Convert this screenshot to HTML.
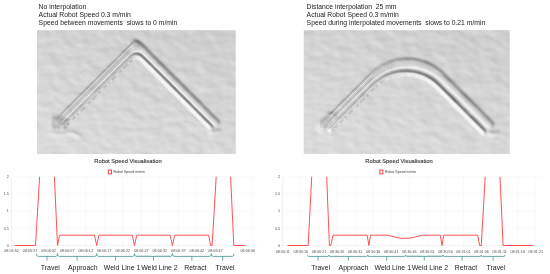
<!DOCTYPE html>
<html lang="en">
<head>
<meta charset="utf-8">
<title>Robot Speed Visualisation</title>
<style>
html,body{margin:0;padding:0;background:#fff;}
body{width:550px;height:274px;overflow:hidden;}
svg{display:block;font-family:"Liberation Sans", Arial, Helvetica, sans-serif;}
</style>
</head>
<body>
<svg width="550" height="274" viewBox="0 0 550 274">
<rect width="550" height="274" fill="#fff"/>
<defs>
<filter id="relief1" x="0" y="0" width="100%" height="100%" color-interpolation-filters="sRGB">
<feGaussianBlur in="SourceAlpha" stdDeviation="1" result="h"/>
<feTurbulence type="fractalNoise" baseFrequency="0.07 0.1" numOctaves="2" seed="7" result="n"/>
<feComposite in="h" in2="n" operator="arithmetic" k2="1" k3="0.065" result="hn"/>
<feDiffuseLighting in="hn" surfaceScale="6.5" diffuseConstant="1" lighting-color="#f5f5f5">
<feDistantLight azimuth="132" elevation="60"/>
</feDiffuseLighting>
</filter>
<filter id="relief2" x="0" y="0" width="100%" height="100%" color-interpolation-filters="sRGB">
<feGaussianBlur in="SourceAlpha" stdDeviation="1" result="h"/>
<feTurbulence type="fractalNoise" baseFrequency="0.07 0.1" numOctaves="2" seed="23" result="n"/>
<feComposite in="h" in2="n" operator="arithmetic" k2="1" k3="0.065" result="hn"/>
<feDiffuseLighting in="hn" surfaceScale="6.5" diffuseConstant="1" lighting-color="#f5f5f5">
<feDistantLight azimuth="132" elevation="60"/>
</feDiffuseLighting>
</filter>
<filter id="bl00" x="-10%" y="-10%" width="120%" height="120%"><feGaussianBlur stdDeviation="0.45"/></filter>
<filter id="bl05" x="-10%" y="-10%" width="120%" height="120%"><feGaussianBlur stdDeviation="0.6"/></filter>
<filter id="bl0" x="-20%" y="-20%" width="140%" height="140%"><feGaussianBlur stdDeviation="1.1"/></filter>
<filter id="bl1" x="-10%" y="-10%" width="120%" height="120%"><feGaussianBlur stdDeviation="1"/></filter>
<filter id="bl2" x="-10%" y="-10%" width="120%" height="120%"><feGaussianBlur stdDeviation="1.8"/></filter>
<linearGradient id="lg" x1="0.72" y1="0" x2="0.28" y2="1">
<stop offset="0" stop-color="#000" stop-opacity="0.025"/>
<stop offset="0.42" stop-color="#000" stop-opacity="0"/>
<stop offset="0.42" stop-color="#fff" stop-opacity="0"/>
<stop offset="1" stop-color="#fff" stop-opacity="0.14"/>
</linearGradient>
<clipPath id="gc1"><rect x="37" y="30.3" width="198.6" height="123.7"/></clipPath>
<clipPath id="gc2"><rect x="303.8" y="30.3" width="205.8" height="123.7"/></clipPath>
</defs>
<text x="38.6" y="8.85" font-size="6.8" fill="#1c1c1c" xml:space="preserve" style="white-space:pre">No interpolation</text>
<text x="38.6" y="16.8" font-size="6.8" fill="#1c1c1c" xml:space="preserve" style="white-space:pre">Actual Robot Speed 0.3 m/min</text>
<text x="38.6" y="24.85" font-size="6.8" fill="#1c1c1c" xml:space="preserve" style="white-space:pre">Speed between movements  slows to 0 m/min</text>
<text x="306.6" y="8.85" font-size="6.8" fill="#1c1c1c" xml:space="preserve" style="white-space:pre">Distance interpolation  25 mm</text>
<text x="306.6" y="16.8" font-size="6.8" fill="#1c1c1c" xml:space="preserve" style="white-space:pre">Actual Robot Speed 0.3 m/min</text>
<text x="306.6" y="24.85" font-size="6.8" fill="#1c1c1c" xml:space="preserve" style="white-space:pre">Speed during interpolated movements  slows to 0.21 m/min</text>
<g clip-path="url(#gc1)">
<rect x="37" y="30.3" width="198.6" height="123.7" fill="#d1d1d1"/>
<g filter="url(#relief1)">
<rect x="30" y="23.3" width="212.6" height="137.7" fill="#000" fill-opacity="0.3"/>
<path d="M56 119.3L132.86 42.44A5 5 0 0 1 139.94 42.44L218.5 121A2.65 2.65 0 0 1 214.75 124.75L142.06 52.06A8 8 0 0 0 130.74 52.06L59.75 123.05A2.65 2.65 0 0 1 56 119.3Z" fill="#000" fill-opacity="0.15"/>
<path d="M63 126L131.55 57.45A7 7 0 0 1 141.45 57.45L211 127" fill="none" stroke="#000" stroke-opacity="0.15" stroke-width="3.4" stroke-linejoin="round" stroke-linecap="round" stroke-dasharray="4.5 1.2 2.5 1.6 6 1.3 3.2 1.8"/>
<path d="M63 126L131.55 57.45A7 7 0 0 1 141.45 57.45L211 127" fill="none" stroke="#000" stroke-opacity="0.09" stroke-width="3.4" stroke-linejoin="round" stroke-linecap="round"/>
<g filter="url(#bl0)"><path d="M52 117.5L51.5 128.5L65 129.5L68 120Z" fill="#000" fill-opacity="0.06" stroke="#000" stroke-opacity="0.06" stroke-width="2" stroke-linejoin="round"/><ellipse cx="134.2" cy="44.6" rx="4.6" ry="4.8" fill="#000" fill-opacity="0.12"/><path d="M210 131.5Q216 133 220 131" fill="none" stroke="#000" stroke-opacity="0.14" stroke-width="2.4" stroke-linecap="round"/><path d="M50 132.5Q58 135 66 133.5T80 136.5" fill="none" stroke="#000" stroke-opacity="0.1" stroke-width="2.6" stroke-linecap="round"/></g>
</g>
<path d="M56 119.3L132.86 42.44A5 5 0 0 1 139.94 42.44L218.5 121A2.65 2.65 0 0 1 214.75 124.75L142.06 52.06A8 8 0 0 0 130.74 52.06L59.75 123.05A2.65 2.65 0 0 1 56 119.3Z" fill="#000" fill-opacity="0.035" stroke="#000" stroke-opacity="0.03" stroke-width="5" filter="url(#bl1)"/>
<path d="M61 114.3L132.86 42.44" fill="none" stroke="#000" stroke-opacity="0.26" stroke-width="0.8" stroke-linecap="round" filter="url(#bl00)"/>
<path d="M63 116.5L131.5 48M67 121L131 57" fill="none" stroke="#000" stroke-opacity="0.15" stroke-width="0.8" stroke-linecap="round" filter="url(#bl00)"/>
<path d="M63 114.4L132.5 44.9" fill="none" stroke="#fff" stroke-opacity="0.5" stroke-width="0.8" stroke-linecap="round" filter="url(#bl00)"/>
<path d="M62 121.8L130.32 53.48A8.6 8.6 0 0 1 142.48 53.48L214 125" fill="none" stroke="#fff" stroke-opacity="0.7" stroke-width="1" stroke-linecap="round" filter="url(#bl00)"/>
<path d="M51.5 116.5L51.5 129L66 130L69 119Z" fill="#000" fill-opacity="0.15" filter="url(#bl1)"/>
<path d="M66 126L131.55 60.45A7 7 0 0 1 141.45 60.45L209 128" fill="none" stroke="#fff" stroke-opacity="0.5" stroke-width="1.7" stroke-linecap="round" stroke-dasharray="0.8 4.6 2.6 6.1 0.5 3.9 1.4 7.4 3.1 5.2 0.4 8.3" filter="url(#bl05)"/>
<rect x="37" y="30.3" width="198.6" height="123.7" fill="url(#lg)"/>
</g>
<g clip-path="url(#gc2)">
<rect x="303.8" y="30.3" width="205.8" height="123.7" fill="#d1d1d1"/>
<g filter="url(#relief2)">
<rect x="296.8" y="23.3" width="219.8" height="137.7" fill="#000" fill-opacity="0.3"/>
<path d="M321 123L370.3 73.7A51.91 51.91 0 0 1 443.7 73.7L492.5 122.5A3.01 3.01 0 0 1 488.25 126.75L442.68 81.18A50.82 50.82 0 0 0 370.82 81.18L325 127A2.83 2.83 0 0 1 321 123Z" fill="#000" fill-opacity="0.15"/>
<path d="M330.5 129.5L374.25 85.75A44.9 44.9 0 0 1 437.75 85.75L484.5 132.5" fill="none" stroke="#000" stroke-opacity="0.15" stroke-width="3.4" stroke-linejoin="round" stroke-linecap="round" stroke-dasharray="4.5 1.2 2.5 1.6 6 1.3 3.2 1.8"/>
<path d="M330.5 129.5L374.25 85.75A44.9 44.9 0 0 1 437.75 85.75L484.5 132.5" fill="none" stroke="#000" stroke-opacity="0.09" stroke-width="3.4" stroke-linejoin="round" stroke-linecap="round"/>
<g filter="url(#bl0)"><path d="M321.5 126.5L331 117" fill="none" stroke="#000" stroke-opacity="0.1" stroke-width="10" stroke-linecap="round"/><path d="M489 133.5Q494 135 498 133" fill="none" stroke="#000" stroke-opacity="0.14" stroke-width="2.4" stroke-linecap="round"/></g>
</g>
<path d="M321 123L370.3 73.7A51.91 51.91 0 0 1 443.7 73.7L492.5 122.5A3.01 3.01 0 0 1 488.25 126.75L442.68 81.18A50.82 50.82 0 0 0 370.82 81.18L325 127A2.83 2.83 0 0 1 321 123Z" fill="#000" fill-opacity="0.035" stroke="#000" stroke-opacity="0.03" stroke-width="5" filter="url(#bl1)"/>
<path d="M329 115L370.3 73.7" fill="none" stroke="#000" stroke-opacity="0.26" stroke-width="0.8" stroke-linecap="round" filter="url(#bl00)"/>
<path d="M331 119L371 79M335 121.7L372 84.7" fill="none" stroke="#000" stroke-opacity="0.15" stroke-width="0.8" stroke-linecap="round" filter="url(#bl00)"/>
<path d="M330 116.6L371 75.6" fill="none" stroke="#fff" stroke-opacity="0.5" stroke-width="0.8" stroke-linecap="round" filter="url(#bl00)"/>
<path d="M328 124.5L371.33 81.67A50.09 50.09 0 0 1 442.17 81.67L487 126.5" fill="none" stroke="#fff" stroke-opacity="0.7" stroke-width="1" stroke-linecap="round" filter="url(#bl00)"/>
<path d="M321.5 126.5L331 117" fill="none" stroke="#000" stroke-opacity="0.08" stroke-width="10" stroke-linecap="round" filter="url(#bl1)"/>
<path d="M334 129L375.61 87.39A42.97 42.97 0 0 1 436.39 87.39L482 133" fill="none" stroke="#fff" stroke-opacity="0.5" stroke-width="1.7" stroke-linecap="round" stroke-dasharray="0.8 4.6 2.6 6.1 0.5 3.9 1.4 7.4 3.1 5.2 0.4 8.3" filter="url(#bl05)"/>
<rect x="303.8" y="30.3" width="205.8" height="123.7" fill="url(#lg)"/>
</g>
<path d="M11.6 176.8V248.1M30.13 176.8V248.1M48.66 176.8V248.1M67.19 176.8V248.1M85.72 176.8V248.1M104.25 176.8V248.1M122.78 176.8V248.1M141.31 176.8V248.1M159.84 176.8V248.1M178.37 176.8V248.1M196.9 176.8V248.1M215.43 176.8V248.1M233.96 176.8V248.1M252.49 176.8V248.1M9.2 228.32H255M9.2 211.15H255M9.2 193.98H255M9.2 176.8H255" stroke="#000" stroke-opacity="0.06" stroke-width="0.45" fill="none"/>
<path d="M11.6 176.8V248.1M9.2 245.5H255" stroke="#000" stroke-opacity="0.11" stroke-width="0.45" fill="none"/>
<text x="8.9" y="246.75" font-size="3.7" fill="#505050" text-anchor="end">0</text>
<text x="8.9" y="229.57" font-size="3.7" fill="#505050" text-anchor="end">0.5</text>
<text x="8.9" y="212.4" font-size="3.7" fill="#505050" text-anchor="end">1</text>
<text x="8.9" y="195.23" font-size="3.7" fill="#505050" text-anchor="end">1.5</text>
<text x="8.9" y="178.05" font-size="3.7" fill="#505050" text-anchor="end">2</text>
<text x="11.6" y="252.3" font-size="3.75" fill="#505050" text-anchor="middle">08:05:52</text>
<text x="30.13" y="252.3" font-size="3.75" fill="#505050" text-anchor="middle">08:05:57</text>
<text x="48.66" y="252.3" font-size="3.75" fill="#505050" text-anchor="middle">08:06:02</text>
<text x="67.19" y="252.3" font-size="3.75" fill="#505050" text-anchor="middle">08:06:07</text>
<text x="85.72" y="252.3" font-size="3.75" fill="#505050" text-anchor="middle">08:06:12</text>
<text x="104.25" y="252.3" font-size="3.75" fill="#505050" text-anchor="middle">08:06:17</text>
<text x="122.78" y="252.3" font-size="3.75" fill="#505050" text-anchor="middle">08:06:22</text>
<text x="141.31" y="252.3" font-size="3.75" fill="#505050" text-anchor="middle">08:06:27</text>
<text x="159.84" y="252.3" font-size="3.75" fill="#505050" text-anchor="middle">08:06:32</text>
<text x="178.37" y="252.3" font-size="3.75" fill="#505050" text-anchor="middle">08:06:37</text>
<text x="196.9" y="252.3" font-size="3.75" fill="#505050" text-anchor="middle">08:06:42</text>
<text x="215.43" y="252.3" font-size="3.75" fill="#505050" text-anchor="middle">08:06:47</text>
<text x="247.8" y="252.3" font-size="3.75" fill="#505050" text-anchor="middle">08:06:56</text>
<text x="128" y="163.1" font-size="5.75" fill="#383838" stroke="#383838" stroke-width="0.12" text-anchor="middle">Robot Speed Visualisation</text>
<rect x="108.4" y="170.1" width="3.1" height="3.7" fill="#fff" stroke="#ff4040" stroke-width="1"/>
<text x="113.5" y="173.1" font-size="3.55" fill="#444">Robot Speed m/min</text>
<clipPath id="c1"><rect x="11.6" y="176.8" width="243.4" height="69.7"/></clipPath>
<path d="M14.6 245.5L35.5 245.5L40.83 156.19L53.47 156.19L57.5 245.5L59.6 235.19L94.5 235.19L96.7 245.5L98.9 235.19L132.3 235.19L134.5 245.5L136.7 235.19L170.2 235.19L172.4 245.5L174.6 235.19L208.6 235.19L210.6 245.5L212.1 245.5L217.43 156.19L229.64 156.19L233.8 245.5L245.2 245.5" clip-path="url(#c1)" stroke="#ff4d4d" stroke-width="0.97" fill="none" stroke-linejoin="round"/>
<path d="M36.4 253.6Q36.4 256.4 38.2 256.4H55.7Q57.5 256.4 57.5 253.6M46.95 256.4V260.6M57.5 253.6Q57.5 256.4 59.3 256.4H94.9Q96.7 256.4 96.7 253.6M77.1 256.4V260.6M96.7 253.6Q96.7 256.4 98.5 256.4H132.7Q134.5 256.4 134.5 253.6M115.6 256.4V260.6M134.5 253.6Q134.5 256.4 136.3 256.4H170.6Q172.4 256.4 172.4 253.6M153.45 256.4V260.6M172.4 253.6Q172.4 256.4 174.2 256.4H209.5Q211.3 256.4 211.3 253.6M191.85 256.4V260.6M211.3 253.6Q211.3 256.4 213.1 256.4H232.2Q234 256.4 234 253.6M222.65 256.4V260.6" stroke="#409494" stroke-width="0.8" fill="none"/>
<text x="40.8" y="269.6" font-size="6.95" fill="#1c1c1c">Travel</text>
<text x="67.9" y="269.6" font-size="6.95" fill="#1c1c1c">Approach</text>
<text x="103.8" y="269.6" font-size="6.95" fill="#1c1c1c">Weld Line 1</text>
<text x="141.2" y="269.6" font-size="6.95" fill="#1c1c1c">Weld Line 2</text>
<text x="184.2" y="269.6" font-size="6.95" fill="#1c1c1c">Retract</text>
<text x="215.6" y="269.6" font-size="6.95" fill="#1c1c1c">Travel</text>
<path d="M282.8 176.8V248.1M300.87 176.8V248.1M318.94 176.8V248.1M337.01 176.8V248.1M355.08 176.8V248.1M373.15 176.8V248.1M391.22 176.8V248.1M409.29 176.8V248.1M427.36 176.8V248.1M445.43 176.8V248.1M463.5 176.8V248.1M481.57 176.8V248.1M499.64 176.8V248.1M517.71 176.8V248.1M535.78 176.8V248.1M280.4 228.32H542M280.4 211.15H542M280.4 193.98H542M280.4 176.8H542" stroke="#000" stroke-opacity="0.06" stroke-width="0.45" fill="none"/>
<path d="M282.8 176.8V248.1M280.4 245.5H542" stroke="#000" stroke-opacity="0.11" stroke-width="0.45" fill="none"/>
<text x="280.1" y="246.75" font-size="3.7" fill="#505050" text-anchor="end">0</text>
<text x="280.1" y="229.57" font-size="3.7" fill="#505050" text-anchor="end">0.5</text>
<text x="280.1" y="212.4" font-size="3.7" fill="#505050" text-anchor="end">1</text>
<text x="280.1" y="195.23" font-size="3.7" fill="#505050" text-anchor="end">1.5</text>
<text x="280.1" y="178.05" font-size="3.7" fill="#505050" text-anchor="end">2</text>
<text x="282.8" y="252.55" font-size="3.75" fill="#505050" text-anchor="middle">08:30:11</text>
<text x="300.87" y="252.55" font-size="3.75" fill="#505050" text-anchor="middle">08:30:16</text>
<text x="318.94" y="252.55" font-size="3.75" fill="#505050" text-anchor="middle">08:30:21</text>
<text x="337.01" y="252.55" font-size="3.75" fill="#505050" text-anchor="middle">08:30:26</text>
<text x="355.08" y="252.55" font-size="3.75" fill="#505050" text-anchor="middle">08:30:31</text>
<text x="373.15" y="252.55" font-size="3.75" fill="#505050" text-anchor="middle">08:30:36</text>
<text x="391.22" y="252.55" font-size="3.75" fill="#505050" text-anchor="middle">08:30:41</text>
<text x="409.29" y="252.55" font-size="3.75" fill="#505050" text-anchor="middle">08:30:46</text>
<text x="427.36" y="252.55" font-size="3.75" fill="#505050" text-anchor="middle">08:30:51</text>
<text x="445.43" y="252.55" font-size="3.75" fill="#505050" text-anchor="middle">08:30:56</text>
<text x="463.5" y="252.55" font-size="3.75" fill="#505050" text-anchor="middle">08:31:01</text>
<text x="481.57" y="252.55" font-size="3.75" fill="#505050" text-anchor="middle">08:31:06</text>
<text x="499.64" y="252.55" font-size="3.75" fill="#505050" text-anchor="middle">08:31:11</text>
<text x="517.71" y="252.55" font-size="3.75" fill="#505050" text-anchor="middle">08:31:16</text>
<text x="535.78" y="252.55" font-size="3.75" fill="#505050" text-anchor="middle">08:31:21</text>
<text x="399" y="163.1" font-size="5.75" fill="#383838" stroke="#383838" stroke-width="0.12" text-anchor="middle">Robot Speed Visualisation</text>
<rect x="379.8" y="170.1" width="3.1" height="3.7" fill="#fff" stroke="#ff4040" stroke-width="1"/>
<text x="384.9" y="173.1" font-size="3.55" fill="#444">Robot Speed m/min</text>
<clipPath id="c2"><rect x="282.8" y="176.8" width="259.2" height="69.7"/></clipPath>
<path d="M287.6 245.5L308.2 245.5L312.75 156.19L325.89 156.19L329.4 245.5L330.8 245.5L333 235.19L367.2 235.19L368.9 245.5L370.6 235.19L386.2 235.19L392 236.23L398 237.77L402 238.29L408 238.29L412 237.77L418 236.23L423.2 235.19L440.3 235.19L442 245.5L443.7 235.19L477.7 235.19L479.6 245.5L481.3 245.5L486.37 156.19L499.07 156.19L503.1 245.5L532.8 245.5" clip-path="url(#c2)" stroke="#ff4d4d" stroke-width="0.97" fill="none" stroke-linejoin="round"/>
<path d="M307.3 255.1Q307.3 256.4 308.4 256.4H327.8Q328.9 256.4 328.9 255.1M318.1 256.4V260.6M328.9 255.1Q328.9 256.4 330 256.4H366.7Q367.8 256.4 367.8 255.1M348.35 256.4V260.6M367.8 255.1Q367.8 256.4 368.9 256.4H404.4Q405.5 256.4 405.5 255.1M386.65 256.4V260.6M405.5 255.1Q405.5 256.4 406.6 256.4H441.9Q443 256.4 443 255.1M424.25 256.4V260.6M443 255.1Q443 256.4 444.1 256.4H480.2Q481.3 256.4 481.3 255.1M462.15 256.4V260.6M481.3 255.1Q481.3 256.4 482.4 256.4H503.9Q505 256.4 505 255.1M493.15 256.4V260.6" stroke="#409494" stroke-width="0.8" fill="none"/>
<text x="311.2" y="269.6" font-size="6.95" fill="#1c1c1c">Travel</text>
<text x="338.6" y="269.6" font-size="6.95" fill="#1c1c1c">Approach</text>
<text x="374.5" y="269.6" font-size="6.95" fill="#1c1c1c">Weld Line 1</text>
<text x="411.7" y="269.6" font-size="6.95" fill="#1c1c1c">Weld Line 2</text>
<text x="454.8" y="269.6" font-size="6.95" fill="#1c1c1c">Retract</text>
<text x="486.5" y="269.6" font-size="6.95" fill="#1c1c1c">Travel</text>
<path d="M406.5 255.6H422.5M426.5 255.6H443" stroke="#449797" stroke-opacity="0.45" stroke-width="0.5" fill="none"/>
<path d="M136.5 255.6H151.5M155.5 255.6H170.5" stroke="#449797" stroke-opacity="0.35" stroke-width="0.5" fill="none"/>
</svg>
</body>
</html>
